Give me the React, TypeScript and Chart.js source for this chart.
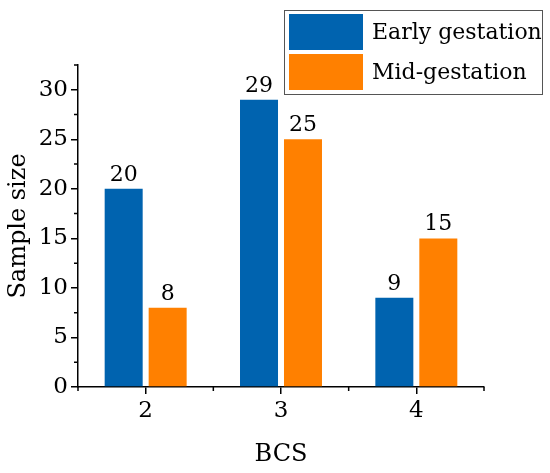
import React, { useEffect, useRef } from 'react';
import { Chart, registerables } from 'chart.js';

Chart.register(...registerables);

const categories = ['2', '3', '4'];
const earlyGestation = [20, 29, 9];
const midGestation = [8, 25, 15];
const yTicks = [0, 5, 10, 15, 20, 25, 30];

const FONT = '"DejaVu Serif", serif';

// numbers above each bar
const barLabels = {
  id: 'barLabels',
  afterDatasetsDraw(chart: any) {
    const ctx = chart.ctx;
    ctx.save();
    ctx.font = `22px ${FONT}`;
    ctx.fillStyle = '#000';
    ctx.textAlign = 'center';
    ctx.textBaseline = 'alphabetic';
    chart.data.datasets.forEach((ds: any, i: number) => {
      const meta = chart.getDatasetMeta(i);
      meta.data.forEach((bar: any, j: number) => {
        ctx.fillText(String(ds.data[j]), bar.x, bar.y - 8);
      });
    });
    ctx.restore();
  },
};

// minor ticks on both axes
const minorTicks = {
  id: 'minorTicks',
  afterDraw(chart: any) {
    const ctx = chart.ctx;
    const y = chart.scales.y;
    const x = chart.scales.x;
    ctx.save();
    ctx.strokeStyle = '#000';
    ctx.lineWidth = 1.5;
    ctx.beginPath();
    for (let v = 2.5; v <= y.max + 0.01; v += 5) {
      const py = y.getPixelForValue(v);
      ctx.moveTo(x.left - 4, py);
      ctx.lineTo(x.left, py);
    }
    const n = categories.length;
    for (let i = 0; i <= n; i++) {
      const px = x.left + (i * x.width) / n;
      ctx.moveTo(px, y.bottom);
      ctx.lineTo(px, y.bottom + 4);
    }
    ctx.stroke();
    ctx.restore();
  },
};

// boxed legend in the top right corner
const boxLegend = {
  id: 'boxLegend',
  afterDraw(chart: any) {
    const ctx = chart.ctx;
    const left = 284;
    const top = 10;
    const w = 258;
    const h = 84;
    ctx.save();
    ctx.fillStyle = '#fff';
    ctx.fillRect(left, top, w, h);
    ctx.strokeStyle = '#555';
    ctx.lineWidth = 1;
    ctx.strokeRect(left + 0.5, top + 0.5, w, h);
    ctx.font = `22px ${FONT}`;
    ctx.textBaseline = 'middle';
    ctx.textAlign = 'left';
    chart.data.datasets.forEach((ds: any, i: number) => {
      const ry = top + 4 + i * 40;
      ctx.fillStyle = ds.backgroundColor;
      ctx.fillRect(left + 5, ry, 74, 36);
      ctx.fillStyle = '#000';
      ctx.fillText(ds.label, left + 88, ry + 19);
    });
    ctx.restore();
  },
};

const App = () => {
  const chartRef = useRef<HTMLCanvasElement>(null);
  const chartInstance = useRef<any>(null);

  useEffect(() => {
    document.body.style.margin = '0';
    if (chartRef.current) {
      if (chartInstance.current) {
        chartInstance.current.destroy();
      }
      chartInstance.current = new Chart(chartRef.current, {
        type: 'bar',
        data: {
          labels: categories,
          datasets: [
            {
              label: 'Early gestation',
              data: earlyGestation,
              backgroundColor: '#0063AF',
              categoryPercentage: 0.65,
              barPercentage: 0.864,
            },
            {
              label: 'Mid-gestation',
              data: midGestation,
              backgroundColor: '#FF8000',
              categoryPercentage: 0.65,
              barPercentage: 0.864,
            },
          ],
        },
        options: {
          animation: false,
          responsive: true,
          maintainAspectRatio: false,
          layout: { padding: { top: 65, right: 66, left: 0, bottom: 0 } },
          plugins: {
            legend: { display: false },
            tooltip: { enabled: false },
          },
          scales: {
            x: {
              afterFit: (scale: any) => {
                scale.height = 86;
              },
              grid: {
                offset: false,
                drawOnChartArea: false,
                drawTicks: true,
                tickLength: 7,
                color: '#000',
                lineWidth: 1.5,
              },
              border: { display: true, color: '#000', width: 1.5 },
              ticks: {
                color: '#000',
                padding: 3,
                font: { family: FONT, size: 23 },
              },
              title: {
                display: true,
                text: 'BCS',
                color: '#000',
                font: { family: FONT, size: 24 },
              },
            },
            y: {
              min: 0,
              max: 32.5,
              afterFit: (scale: any) => {
                scale.width = 78;
              },
              afterBuildTicks: (scale: any) => {
                scale.ticks = yTicks.map((v) => ({ value: v }));
              },
              grid: {
                drawOnChartArea: false,
                drawTicks: true,
                tickLength: 7,
                color: '#000',
                lineWidth: 1.5,
              },
              border: { display: true, color: '#000', width: 1.5 },
              ticks: {
                color: '#000',
                padding: 3,
                font: { family: FONT, size: 23 },
              },
              title: {
                display: true,
                text: 'Sample size',
                color: '#000',
                font: { family: FONT, size: 24 },
              },
            },
          },
        },
        plugins: [barLabels, minorTicks, boxLegend],
      });
    }

    return () => {
      if (chartInstance.current) {
        chartInstance.current.destroy();
        chartInstance.current = null;
      }
    };
  }, []);

  return (
    <div style={{ width: 550, height: 473, position: 'relative', background: '#fff' }}>
      <canvas ref={chartRef} />
    </div>
  );
};

export default App;
